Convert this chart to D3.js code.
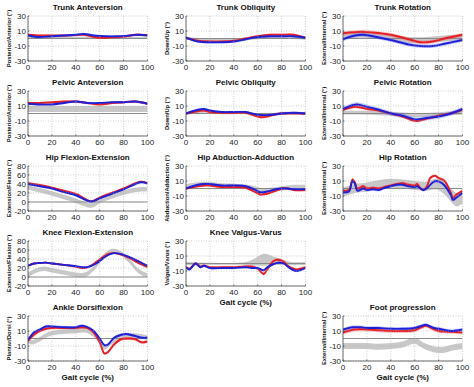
<!DOCTYPE html>
<html><head><meta charset="utf-8">
<script src="https://cdn.jsdelivr.net/npm/d3@7"></script>
<style>body{margin:0;background:#fff}svg{display:block}text{font-family:"Liberation Sans",Arial,sans-serif}</style>
</head><body><svg id="c" width="474" height="387"></svg>
<script>
// ---- data: [x, value]; norm: [x, mean, sd] ----
const xTicks = [0,20,40,60,80,100];
const yTicksSmall = [30,10,-10,-30];
const yTicksLarge = [80,60,40,20,0,-20];

const trunkAntRed = [[0,5],[10,4],[20,4],[30,4],[40,4.5],[47,5],[53,3],[60,1],[70,1.5],[80,2.5],[90,5],[100,4.5]];
const trunkAntBlue = [[0,4],[8,2],[20,3],[30,4],[40,5],[47,6],[55,4],[65,3],[75,3],[85,4],[92,5],[100,4]];
const trunkAntNorm = [[0,1,1.5],[50,1,1.5],[100,1,1.5]];

const trunkOblRed = [[0,1],[10,-3],[20,-4],[30,-4],[40,-3],[50,0],[60,3],[70,5],[80,5],[90,5],[100,1]];
const trunkOblBlue = [[0,1],[10,-4],[20,-5],[30,-5],[40,-4],[50,-1],[60,2],[70,3],[80,3],[90,3],[100,1]];
const trunkOblNorm = [[0,0,2],[20,-2,2],[40,-2,2],[60,1,2],[80,2,2],[100,0,2]];

const trunkRotRed = [[0,7],[15,9],[25,8],[40,5],[55,-1],[65,-5],[75,-4],[85,0],[100,5]];
const trunkRotBlue = [[0,-1],[10,4],[17,5],[25,3],[40,-2],[55,-8],[65,-10],[75,-10],[85,-7],[100,-2]];
const trunkRotNorm = [[0,3,4],[15,5,4],[30,3,4],[45,0,4],[55,-2,4],[70,-2,4],[85,0,4],[100,2,4]];

const pelvicAntRed = [[0,14],[10,14],[20,15],[30,16],[40,16],[50,14],[60,12],[70,14],[80,15],[90,16],[100,13]];
const pelvicAntBlue = [[0,13],[10,12],[20,12],[30,14],[40,16],[50,14],[60,14],[70,15],[80,15],[90,16],[100,13]];
const pelvicAntNorm = [[0,6,4],[50,6,4],[100,6,4]];

const pelvicOblRed = [[0,0],[10,3],[15,4],[20,2],[30,1],[40,1],[50,1],[58,-3],[63,-5],[68,-4],[75,-1],[80,0],[100,0]];
const pelvicOblBlue = [[0,0],[10,5],[15,6],[20,4],[30,2],[40,2],[50,2],[58,-1],[63,-2],[70,-2],[80,0],[90,1],[100,0]];
const pelvicOblNorm = [[0,0,2],[15,3,2],[30,1,2],[50,1,2],[63,-3,2],[80,0,2],[100,0,2]];

const pelvicRotRed = [[0,5],[10,9],[15,8],[20,6],[30,4],[40,0],[50,-4],[58,-9],[62,-10],[67,-8],[75,-5],[80,-3],[90,0],[100,5]];
const pelvicRotBlue = [[0,6],[8,11],[12,12],[20,9],[30,5],[40,0],[50,-3],[58,-7],[62,-8],[70,-6],[80,-4],[90,0],[100,6]];
const pelvicRotNorm = [[0,1,2.5],[20,1,2.5],[50,-1,2.5],[65,-2,2.5],[85,0,2.5],[100,1,2.5]];

const hipFlexRed = [[0,42],[10,38],[20,32],[30,25],[40,18],[47,8],[52,2],[55,3],[60,10],[70,20],[80,30],[90,42],[95,45],[100,42]];
const hipFlexBlue = [[0,40],[10,35],[20,30],[30,22],[40,15],[47,6],[52,1],[55,2],[60,8],[70,18],[80,28],[90,40],[95,44],[100,41]];
const hipFlexNorm = [[0,33,5],[10,26,5],[20,19,5],[30,11,5],[40,3,5],[48,-5,5],[52,-8,5],[56,-5,5],[60,2,5],[70,12,5],[80,21,5],[90,27,5],[100,29,5]];

const hipAbdRed = [[0,0],[10,3],[15,4],[20,4],[30,2],[40,2],[50,1],[57,-4],[62,-8],[68,-7],[75,-3],[80,0],[85,0],[90,-2],[100,-2]];
const hipAbdBlue = [[0,0],[10,5],[15,6],[20,6],[30,4],[40,4],[50,3],[57,-1],[62,-5],[68,-4],[75,-1],[80,0],[85,0],[90,-1],[100,-1]];
const hipAbdNorm = [[0,3,3],[15,6,3],[30,4,3],[45,3,3],[55,1,3],[62,-2,3],[70,-2,3],[80,0,3],[90,2,3],[100,2,3]];

const hipRotRed = [[0,-3],[5,-2],[8,12],[10,8],[12,0],[17,3],[20,0],[25,1],[30,0],[35,2],[40,4],[45,6],[50,7],[55,5],[60,4],[62,6],[65,0],[67,-2],[70,2],[73,14],[77,17],[80,14],[85,10],[90,-5],[92,-12],[95,-8],[100,-3]];
const hipRotBlue = [[0,-5],[5,-4],[8,10],[10,6],[12,-3],[17,0],[20,-2],[25,-1],[30,-2],[35,1],[40,3],[45,5],[50,5],[55,3],[60,2],[62,3],[65,0],[67,-2],[70,0],[75,8],[78,10],[82,8],[85,4],[90,-8],[92,-15],[95,-12],[100,-6]];
const hipRotNorm = [[0,-5,6],[10,0,6],[20,2,6],[30,5,6],[40,7,6],[50,6,6],[60,4,6],[70,3,6],[78,6,7],[85,0,8],[90,-8,9],[95,-15,9],[100,-12,8]];

const kneeFlexRed = [[0,25],[5,30],[10,31],[15,32],[20,30],[30,27],[40,23],[45,20],[50,22],[57,33],[63,45],[68,52],[72,53],[78,50],[85,42],[93,30],[100,22]];
const kneeFlexBlue = [[0,25],[5,30],[10,31],[15,32],[20,30],[30,27],[40,24],[45,22],[50,22],[57,30],[63,42],[68,50],[72,53],[78,51],[85,44],[93,34],[100,25]];
const kneeFlexNorm = [[0,5,5],[5,12,5],[10,17,5],[15,18,5],[20,15,5],[30,10,5],[40,5,5],[45,4,5],[50,8,5],[57,25,5],[63,45,5],[68,55,5],[72,58,5],[78,52,5],[85,35,5],[93,12,5],[100,3,5]];

const kneeValRed = [[0,-5],[3,-7],[8,0],[12,-4],[15,-3],[20,-5],[30,-5],[40,-5],[50,-4],[55,-4],[60,-7],[65,-14],[68,-8],[73,3],[77,5],[82,2],[85,-3],[90,-7],[93,-8],[100,-5]];
const kneeValBlue = [[0,-5],[3,-8],[8,0],[12,-5],[15,-3],[20,-6],[30,-6],[40,-6],[50,-5],[55,-6],[60,-6],[65,-9],[68,-5],[73,-1],[77,1],[82,0],[85,-4],[90,-9],[93,-10],[100,-6]];
const kneeValNorm = [[0,0,2],[50,0,2],[58,2,5],[65,5,8],[72,4,6],[80,2,4],[88,0,2],[100,0,2]];

const ankleRed = [[0,-3],[5,5],[10,10],[15,13],[20,14],[30,14],[40,14],[45,15],[50,14],[55,8],[60,-5],[64,-20],[67,-18],[72,-8],[78,-1],[85,0],[90,-1],[95,-5],[100,-4]];
const ankleBlue = [[0,-2],[5,8],[10,12],[15,16],[20,16],[30,15],[40,15],[45,17],[50,15],[55,10],[60,0],[64,-9],[67,-8],[72,1],[78,5],[82,6],[88,4],[95,1],[100,1]];
const ankleNorm = [[0,-3,3],[3,-5,3],[10,-1,3],[15,4,3],[20,7,3],[30,9,3],[40,10,3],[45,11,3],[50,10,3],[57,2,3],[62,-10,3],[64,-12,3],[70,-5,3],[78,2,3],[85,4,3],[95,3,3],[100,1,3]];

const footRed = [[0,8],[10,12],[20,12],[30,11],[40,10],[50,10],[60,11],[67,16],[70,17],[75,13],[80,10],[90,9],[100,8]];
const footBlue = [[0,12],[8,15],[15,15],[20,14],[30,14],[40,13],[50,13],[60,14],[68,18],[70,18],[76,14],[80,13],[90,10],[100,12]];
const footNorm = [[0,-10,4],[20,-10,4],[30,-11,4],[40,-10,4],[50,-8,4],[60,-3,4],[68,-10,4],[78,-15,4],[85,-15,4],[92,-12,4],[100,-10,4]];

const panels = [
 {t:"Trunk Anteversion", yl:"Posterior/Anterior (°)", r:0,c:0, red:trunkAntRed, blue:trunkAntBlue, norm:trunkAntNorm, sd:[1.5,1.5]},
 {t:"Trunk Obliquity", yl:"Down/Up (°)", r:0,c:1, red:trunkOblRed, blue:trunkOblBlue, norm:trunkOblNorm, sd:[1.5,1.5]},
 {t:"Trunk Rotation", yl:"External/Internal (°)", r:0,c:2, red:trunkRotRed, blue:trunkRotBlue, norm:trunkRotNorm, sd:[2.5,2.5]},
 {t:"Pelvic Anteversion", yl:"Posterior/Anterior (°)", r:1,c:0, red:pelvicAntRed, blue:pelvicAntBlue, norm:pelvicAntNorm, sd:[1.5,1.5]},
 {t:"Pelvic Obliquity", yl:"Down/Up (°)", r:1,c:1, red:pelvicOblRed, blue:pelvicOblBlue, norm:pelvicOblNorm, sd:[1.5,1.5]},
 {t:"Pelvic Rotation", yl:"External/Internal (°)", r:1,c:2, red:pelvicRotRed, blue:pelvicRotBlue, norm:pelvicRotNorm, sd:[2,3]},
 {t:"Hip Flexion-Extension", yl:"Extension/Flexion (°)", r:2,c:0, red:hipFlexRed, blue:hipFlexBlue, norm:hipFlexNorm, sd:[2,2], big:true},
 {t:"Hip Abduction-Adduction", yl:"Abduction/Adduction (°)", r:2,c:1, red:hipAbdRed, blue:hipAbdBlue, norm:hipAbdNorm, sd:[1.5,1.5]},
 {t:"Hip Rotation", yl:"External/Internal (°)", r:2,c:2, red:hipRotRed, blue:hipRotBlue, norm:hipRotNorm, sd:[2,2]},
 {t:"Knee Flexion-Extension", yl:"Extension/Flexion (°)", r:3,c:0, red:kneeFlexRed, blue:kneeFlexBlue, norm:kneeFlexNorm, sd:[2,2], big:true},
 {t:"Knee Valgus-Varus", yl:"Valgus/Varus (°)", r:3,c:1, red:kneeValRed, blue:kneeValBlue, norm:kneeValNorm, sd:[2,1.5], xl:true},
 {t:"Ankle Dorsiflexion", yl:"Plantar/Dorsi (°)", r:4,c:0, red:ankleRed, blue:ankleBlue, norm:ankleNorm, sd:[2,2], xl:true},
 {t:"Foot progression", yl:"External/Internal (°)", r:4,c:2, red:footRed, blue:footBlue, norm:footNorm, sd:[2.5,2.5], xl:true}
];

// ---- layout ----
const colX = [28, 186, 343], rowY = [16, 91, 166, 241, 316];
const PW = 119.5, PH = 45;
const svg = d3.select("#c");
const defs = svg.append("defs");

panels.forEach((p, i) => {
  const x0 = colX[p.c], y0 = rowY[p.r];
  const g = svg.append("g").attr("transform", `translate(${x0},${y0})`);
  const x = d3.scaleLinear().domain([0,100]).range([0,PW]);
  const yt = p.big ? yTicksLarge : yTicksSmall;
  const y = d3.scaleLinear().domain(p.big ? [-20,80] : [-30,30]).range([PH,0]);
  defs.append("clipPath").attr("id","cl"+i).append("rect").attr("width",PW).attr("height",PH);
  const pg = g.append("g").attr("clip-path",`url(#cl${i})`);

  // grid
  g.append("g").selectAll("line").data(xTicks).join("line")
    .attr("x1",d=>x(d)).attr("x2",d=>x(d)).attr("y1",0).attr("y2",PH)
    .attr("stroke","#b0b0b0").attr("stroke-width",0.6).attr("stroke-dasharray","1,1.5");
  g.append("g").selectAll("line").data(yt).join("line")
    .attr("y1",d=>y(d)).attr("y2",d=>y(d)).attr("x1",0).attr("x2",PW)
    .attr("stroke","#b0b0b0").attr("stroke-width",0.6).attr("stroke-dasharray","1,1.5");

  const curve = d3.curveCatmullRom.alpha(0.5);
  const area = d3.area().curve(curve).x(d=>x(d[0]));
  const line = d3.line().curve(curve).x(d=>x(d[0])).y(d=>y(d[1]));

  // normative band
  pg.append("path").datum(p.norm)
    .attr("d", area.y0(d=>y(d[1]-d[2])).y1(d=>y(d[1]+d[2])))
    .attr("fill","#c8c8c8");
  // zero line
  pg.append("line").attr("x1",0).attr("x2",PW).attr("y1",y(0)).attr("y2",y(0))
    .attr("stroke","#8c8c8c").attr("stroke-width",1.1);
  // subject bands
  const band = (data, sd, col) => pg.append("path").datum(data)
    .attr("d", d3.area().curve(curve).x(d=>x(d[0])).y0(d=>y(d[1]-sd)).y1(d=>y(d[1]+sd)))
    .attr("fill", col);
  band(p.red, p.sd[0], "rgba(240,60,60,0.3)");
  band(p.blue, p.sd[1], "rgba(70,90,255,0.3)");
  pg.append("path").datum(p.red).attr("d",line).attr("fill","none")
    .attr("stroke","#e61e25").attr("stroke-width",1.9);
  pg.append("path").datum(p.blue).attr("d",line).attr("fill","none")
    .attr("stroke","#1f1fd6").attr("stroke-width",1.9);

  // axes lines
  g.append("line").attr("x1",0).attr("x2",0).attr("y1",0).attr("y2",PH).attr("stroke","#333").attr("stroke-width",0.7);
  g.append("line").attr("x1",0).attr("x2",PW).attr("y1",PH).attr("y2",PH).attr("stroke","#333").attr("stroke-width",0.7);
  // ticks inward
  g.append("g").selectAll("line").data(xTicks).join("line")
    .attr("x1",d=>x(d)).attr("x2",d=>x(d)).attr("y1",PH).attr("y2",PH-1.5).attr("stroke","#333").attr("stroke-width",0.6);
  g.append("g").selectAll("line").data(yt).join("line")
    .attr("y1",d=>y(d)).attr("y2",d=>y(d)).attr("x1",0).attr("x2",1.5).attr("stroke","#333").attr("stroke-width",0.6);

  // tick labels
  g.append("g").selectAll("text").data(xTicks).join("text")
    .attr("x",d=>x(d)).attr("y",PH+8.5).attr("text-anchor","middle")
    .attr("font-size",8).attr("fill","#222").text(d=>d);
  g.append("g").selectAll("text").data(yt).join("text")
    .attr("x",-2).attr("y",d=>y(d)+2.8).attr("text-anchor","end")
    .attr("font-size",8).attr("fill","#222").text(d=>d);

  // title
  g.append("text").attr("x",PW/2).attr("y",-6).attr("text-anchor","middle")
    .attr("font-size",8).attr("font-weight","bold").attr("fill","#111").text(p.t);
  // y label
  g.append("text").attr("transform",`translate(${-17.5},${PH/2}) rotate(-90)`)
    .attr("text-anchor","middle").attr("font-size",5.8).attr("font-weight","bold")
    .attr("fill","#111").text(p.yl);
  if (p.xl) {
    g.append("text").attr("x",PW/2).attr("y",PH+19).attr("text-anchor","middle")
      .attr("font-size",8).attr("font-weight","bold").attr("fill","#111").text("Gait cycle (%)");
  }
});
</script></body></html>
